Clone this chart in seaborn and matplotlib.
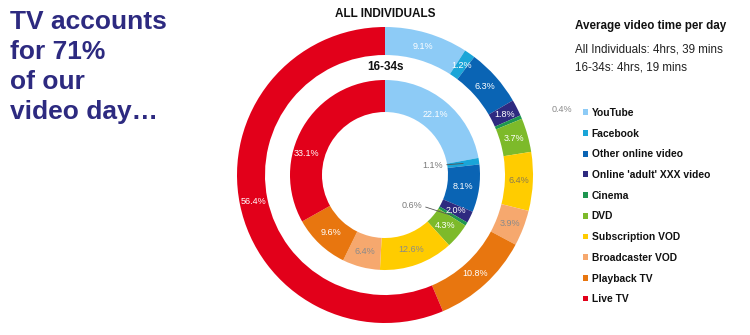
import numpy as np
import matplotlib
matplotlib.use("Agg")
import matplotlib.pyplot as plt
from matplotlib.patches import Patch
import seaborn as sns

categories = ["YouTube", "Facebook", "Other online video", "Online 'adult' XXX video",
              "Cinema", "DVD", "Subscription VOD", "Broadcaster VOD", "Playback TV", "Live TV"]
all_individuals = [9.1, 1.2, 6.3, 1.8, 0.4, 3.7, 6.4, 3.9, 10.8, 56.4]
age_16_34 = [22.1, 1.1, 8.1, 2.0, 0.6, 4.3, 12.6, 6.4, 9.6, 33.1]
colors = ["#8DCBF6", "#1AA5D8", "#0A64B4", "#2E2A80", "#1E9650", "#7DBA2A",
          "#FFCC00", "#F6A86E", "#E8760F", "#E2001A"]
outer_txt_col = ["white", "white", "white", "white", "#8a8a8a", "white", "#8a7a50", "#8a8a8a", "white", "white"]
inner_txt_col = ["white", "#7a7a7a", "white", "white", "#7a7a7a", "white", "#8a8a8a", "#8a8a8a", "white", "white"]

sns.set_theme(style="white")
plt.rcParams['font.family'] = ['Liberation Sans', 'DejaVu Sans']
pal = sns.color_palette(colors)

W, H = 750, 335
fig = plt.figure(figsize=(7.5, 3.35), dpi=100)
ax = fig.add_axes([0, 0, 1, 1])

cx, cy = 385, H - 175
R_out, w_out = 148, 28
R_in, w_in = 95, 32

wo, _ = ax.pie(all_individuals, colors=pal, radius=R_out, center=(cx, cy), startangle=90,
               counterclock=False, wedgeprops=dict(width=w_out, linewidth=0), frame=True)
wi, _ = ax.pie(age_16_34, colors=pal, radius=R_in, center=(cx, cy), startangle=90,
               counterclock=False, wedgeprops=dict(width=w_in, linewidth=0), frame=True)
ax.set_xlim(0, W)
ax.set_ylim(0, H)
ax.set_aspect("equal")
ax.axis("off")

fs = 6.5
def label_ring(wedges, vals, tcols, rmid, special):
    for i, (w, v, c) in enumerate(zip(wedges, vals, tcols)):
        ang = np.deg2rad((w.theta1 + w.theta2) / 2)
        s = f"{v:.1f}%"
        sp = special.get(i)
        if sp is None:
            ax.text(cx + rmid * np.cos(ang), cy + rmid * np.sin(ang), s, color=c,
                    fontsize=fs, ha="center", va="center")
        elif sp[0] == "text":
            ax.text(sp[1], H - sp[2], s, color=c, fontsize=fs, ha="center", va="center")
        else:
            px, py = cx + rmid * np.cos(ang), cy + rmid * np.sin(ang)
            ax.annotate(s, xy=(px, py), xytext=(sp[1], H - sp[2]), textcoords="data",
                        color=c, fontsize=fs, ha="center", va="center",
                        arrowprops=dict(arrowstyle="-", color="#555555", lw=0.6,
                                        shrinkA=0, shrinkB=0, relpos=(1, 0.5)))

label_ring(wo, all_individuals, outer_txt_col, R_out - w_out / 2, {4: ("text", 562, 109)})
label_ring(wi, age_16_34, inner_txt_col, R_in - w_in / 2,
           {1: ("lead", 433, 165), 4: ("lead", 412, 206), 9: ("text", 306, 154)})

fig.text(385 / W, 1 - 14 / H, "ALL INDIVIDUALS", ha="center", va="center",
         fontsize=8.5, fontweight="bold", color="#111111")
fig.text(385 / W, 1 - 67 / H, "16-34s", ha="center", va="center",
         fontsize=8.5, fontweight="bold", color="#111111")

fig.text(10 / W, 1 - 10 / H, "TV accounts\nfor 71%\nof our\nvideo day…", ha="left", va="top",
         fontsize=19, fontweight="bold", color="#2D2A80", linespacing=1.32)

fig.text(575 / W, 1 - 26 / H, "Average video time per day", ha="left", va="center",
         fontsize=8.4, fontweight="bold", color="#111111")
fig.text(575 / W, 1 - 50 / H, "All Individuals: 4hrs, 39 mins", ha="left", va="center",
         fontsize=8.4, color="#222222")
fig.text(575 / W, 1 - 67 / H, "16-34s: 4hrs, 19 mins", ha="left", va="center",
         fontsize=8.4, color="#222222")

handles = [Patch(facecolor=c, edgecolor="none") for c in pal]
leg = fig.legend(handles, categories, loc="upper left", bbox_to_anchor=(583 / W, 1 - 108 / H),
                 frameon=False, fontsize=7.4, handlelength=0.5, handleheight=0.5,
                 handletextpad=0.35, labelspacing=1.04, borderpad=0, borderaxespad=0)
for t in leg.get_texts():
    t.set_fontweight("bold")
    t.set_color("#111111")

fig.savefig("out.png", dpi=100, facecolor="white")
